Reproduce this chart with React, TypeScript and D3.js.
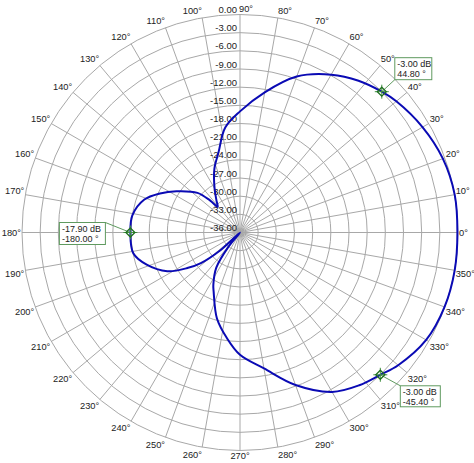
import React, { useEffect, useRef } from 'react';
import * as d3 from 'd3';

// Pattern samples: angle in degrees (CCW from 0° at right), gain in dB
const angles = [
  0, 10, 20, 30, 40, 44.8, 52, 60, 70, 80, 90, 98, 105, 112, 120, 127, 131,
  133, 137, 147, 154, 161, 171, 180, 191, 199, 208, 214, 218, 222, 226, 231,
  236, 243, 246, 255, 263, 270, 280, 290, 300, 308, 314.6, 320, 330, 340, 350,
];
const gains = [
  -0.1, 0.0, -0.35, -1.2, -2.3, -3.0, -4.2, -5.9, -8.6, -12.5, -16.0, -18.5, -22.3, -24.7, -27.6, -29.6, -30.4,
  -28.8, -26.4, -23.5, -21.3, -19.3, -18.0, -17.9, -18.05, -19.7, -22.4, -25.5, -27.8, -31.5, -36.0, -33.0,
  -29.0, -26.3, -25.3, -21.3, -18.4, -15.8, -13.2, -9.2, -5.6, -4.0, -3.0, -1.9, -0.5, -0.05, 0.0,
];

// Radial ticks (dB) and angular ticks (deg)
const dbTicks = [0, -3, -6, -9, -12, -15, -18, -21, -24, -27, -30, -33, -36];
const angleTicks = d3.range(0, 360, 10);

// Marker readouts
const markerAngles = [44.8, -180, -45.4];
const markerGains = [-3.0, -17.9, -3.0];

const W = 474;
const H = 463;
const cx = 240;
const cy = 232.5;
const R = 218;
const FONT = 'Arial, "Liberation Sans", sans-serif';

// box placement relative to marker point, and the corner the leader line meets
const boxLayout = [
  { dx: 13, dy: -34, w: 37, h: 22, corner: [0, 22] },
  { dx: -71, dy: -10, w: 46, h: 22, corner: [46, 0] },
  { dx: 20, dy: 11, w: 40, h: 21, corner: [0, 0] },
];

const App: React.FC = () => {
  const svgRef = useRef<SVGSVGElement>(null);

  useEffect(() => {
    if (!svgRef.current) return;
    const svg = d3.select(svgRef.current);
    svg.selectAll('*').remove();

    const r = d3.scaleLinear().domain([-36, 0]).range([0, R]).clamp(true);
    const rad = (deg: number) => (deg * Math.PI) / 180;
    const px = (deg: number, db: number) => cx + r(db) * Math.cos(rad(deg));
    const py = (deg: number, db: number) => cy - r(db) * Math.sin(rad(deg));

    svg.append('rect').attr('width', W).attr('height', H).attr('fill', '#fff');

    const g = svg.append('g');

    // Rings
    g.selectAll('.ring')
      .data(dbTicks.slice(0, -1))
      .enter()
      .append('circle')
      .attr('cx', cx)
      .attr('cy', cy)
      .attr('r', (d: number) => r(d))
      .attr('fill', 'none')
      .attr('stroke', '#a8a8a8')
      .attr('stroke-width', 1);

    // Spokes
    g.selectAll('.spoke')
      .data(angleTicks)
      .enter()
      .append('line')
      .attr('x1', cx)
      .attr('y1', cy)
      .attr('x2', (d: number) => px(d, 0))
      .attr('y2', (d: number) => py(d, 0))
      .attr('stroke', '#a8a8a8')
      .attr('stroke-width', 1);

    // Angle labels
    g.selectAll('.alabel')
      .data(angleTicks)
      .enter()
      .append('text')
      .attr('x', (d: number) => (d === 90 ? cx - 1 : cx + (R + 1) * Math.cos(rad(d))))
      .attr('y', (d: number) => {
        if (d === 90) return cy - R - 3;
        if (d === 270) return cy + R + 2;
        return cy - (R + 4) * Math.sin(rad(d));
      })
      .attr('text-anchor', (d: number) => {
        if (d === 90) return 'start';
        const c = Math.cos(rad(d));
        return c > 0.01 ? 'start' : c < -0.01 ? 'end' : 'middle';
      })
      .attr('dominant-baseline', (d: number) => {
        const s = Math.sin(rad(d));
        return s > 0.01 ? 'auto' : s < -0.01 ? 'hanging' : 'central';
      })
      .attr('font-family', FONT)
      .attr('font-size', '9.3px')
      .attr('fill', '#222')
      .text((d: number) => `${d}°`);

    // dB labels along the vertical
    g.selectAll('.rlabel')
      .data(dbTicks)
      .enter()
      .append('text')
      .attr('x', cx - 3)
      .attr('y', (d: number) => cy - r(d) - 1.5)
      .attr('text-anchor', 'end')
      .attr('font-family', FONT)
      .attr('font-size', '9.5px')
      .attr('fill', '#222')
      .text((d: number) => d.toFixed(2));

    // Pattern
    const pts = angles.map((a, i) => [a, gains[i]] as [number, number]);
    const line = d3
      .lineRadial<[number, number]>()
      .angle((d) => Math.PI / 2 - rad(d[0]))
      .radius((d) => r(d[1]))
      .curve(d3.curveCatmullRomClosed.alpha(0.5));

    g.append('path')
      .datum(pts)
      .attr('transform', `translate(${cx},${cy})`)
      .attr('d', line)
      .attr('fill', 'none')
      .attr('stroke', '#0a0ab4')
      .attr('stroke-width', 2);

    // Markers with readout boxes
    markerAngles.forEach((a, i) => {
      const mx = px(a, markerGains[i]);
      const my = py(a, markerGains[i]);
      const b = boxLayout[i];
      const bx = mx + b.dx;
      const by = my + b.dy;

      g.append('line')
        .attr('x1', mx)
        .attr('y1', my)
        .attr('x2', bx + b.corner[0])
        .attr('y2', by + b.corner[1])
        .attr('stroke', '#5f9a5f')
        .attr('stroke-width', 1);

      g.append('line')
        .attr('x1', mx - 7).attr('y1', my).attr('x2', mx + 7).attr('y2', my)
        .attr('stroke', '#3f8f3f').attr('stroke-width', 1);
      g.append('line')
        .attr('x1', mx).attr('y1', my - 7).attr('x2', mx).attr('y2', my + 7)
        .attr('stroke', '#3f8f3f').attr('stroke-width', 1);
      g.append('path')
        .attr('d', `M${mx},${my - 4.5}L${mx + 4.5},${my}L${mx},${my + 4.5}L${mx - 4.5},${my}Z`)
        .attr('fill', 'none')
        .attr('stroke', '#1f6f1f')
        .attr('stroke-width', 1.3);

      g.append('rect')
        .attr('x', bx)
        .attr('y', by)
        .attr('width', b.w)
        .attr('height', b.h)
        .attr('fill', '#fff')
        .attr('stroke', '#5f9a5f')
        .attr('stroke-width', 1);

      const lines = [`${markerGains[i].toFixed(2)} dB`, `${a.toFixed(2)} °`];
      lines.forEach((t, j) => {
        g.append('text')
          .attr('x', bx + 2.5)
          .attr('y', by + 9.5 + j * 10)
          .attr('font-family', FONT)
          .attr('font-size', '9px')
          .attr('fill', '#222')
          .text(t);
      });
    });
  }, []);

  return (
    <svg
      ref={svgRef}
      width={W}
      height={H}
      style={{ position: 'absolute', left: 0, top: 0 }}
    />
  );
};

export default App;
